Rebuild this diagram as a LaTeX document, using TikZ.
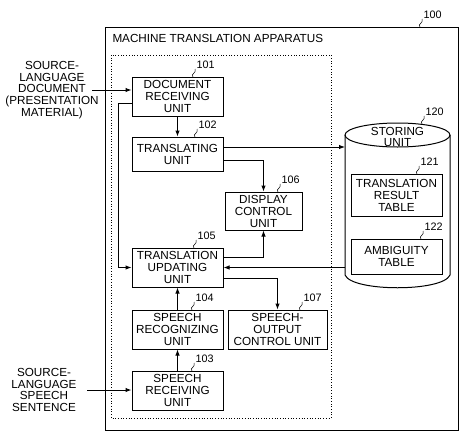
\documentclass[tikz,border=0pt]{standalone}
\usepackage{fontspec}
\setmainfont{Liberation Sans}
\usetikzlibrary{arrows.meta,calc}
\begin{document}
\begin{tikzpicture}[x=1pt,y=-1pt,
  line width=1pt,
  box/.style={draw,align=center,inner sep=0pt,font=\fontsize{11.7}{12}\selectfont},
  lbl/.style={align=center,inner sep=0pt,font=\fontsize{11.7}{11.6}\selectfont},
  num/.style={anchor=base west,inner sep=0pt,font=\fontsize{10.8}{11}\selectfont},
  arr/.style={-{Latex[length=6pt,width=4.5pt]}},
  sq/.style={line width=0.5pt}]
\useasboundingbox (0,0) rectangle (474,445);
\newcommand\refnum[3]{%
  \draw[sq] (#1,#2) .. controls (#1-3,#2-3) and (#1+4,#2-4) .. (#1+2,#2-8);
  \node[num] at (#1+3,#2-9) {#3};}
% outer and dotted boxes
\draw (105,27) rectangle (458,430);
\node[anchor=base west,inner sep=0pt,font=\fontsize{11.7}{12}\selectfont] (title) at (112,42) {MACHINE TRANSLATION APPARATUS};
\draw[dotted,line width=0.7pt] (111,55) rectangle (331,418);
\refnum{420}{27}{100}
% units
\node[box,minimum width=91pt,minimum height=39pt] (dr) at (177.5,96.5) {DOCUMENT\\RECEIVING\\UNIT};
\node[box,minimum width=91pt,minimum height=34pt] (tr) at (177.5,154) {TRANSLATING\\UNIT};
\node[box,minimum width=77pt,minimum height=38pt] (dc) at (263.5,211) {DISPLAY\\CONTROL\\UNIT};
\node[box,minimum width=91pt,minimum height=39pt] (tu) at (177.5,267.5) {TRANSLATION\\UPDATING\\UNIT};
\node[box,minimum width=91pt,minimum height=39pt] (sr) at (177.5,329.5) {SPEECH\\RECOGNIZING\\UNIT};
\node[box,minimum width=91pt,minimum height=39pt] (sv) at (177.5,390.5) {SPEECH\\RECEIVING\\UNIT};
\node[box,minimum width=99pt,minimum height=39pt] (so) at (277.5,329.5) {SPEECH-\\OUTPUT\\CONTROL UNIT};
\refnum{193}{77}{101}
\refnum{195}{137}{102}
\refnum{278}{192}{106}
\refnum{194}{248}{105}
\refnum{192}{310}{104}
\refnum{192}{371}{103}
\refnum{300}{310}{107}
% storing unit cylinder
\draw[fill=white] (345,135) -- (345,275) .. controls (352,292) and (443,292) .. (450,275) -- (450,135);
\draw (397.5,135) ellipse [x radius=52.5pt, y radius=12pt];
\node[lbl] (st) at (397.5,137) {STORING\\UNIT};
\coordinate (cylA) at (345,147);
\coordinate (cylB) at (345,267.5);
\refnum{422}{124}{120}
\node[box,minimum width=91pt,minimum height=42pt] (rt) at (396.5,195) {TRANSLATION\\RESULT\\TABLE};
\node[box,minimum width=91pt,minimum height=35pt] (at) at (396.5,256.5) {AMBIGUITY\\TABLE};
\refnum{417}{174}{121}
\refnum{421}{239}{122}
% inputs
\node[lbl] (srcdoc) at (52,90) {SOURCE-\\LANGUAGE\\DOCUMENT\\(PRESENTATION\\MATERIAL)};
\node[lbl] (srcsp) at (44,390) {SOURCE-\\LANGUAGE\\SPEECH\\SENTENCE};
\coordinate (ind) at (92,90);
\coordinate (ins) at (87,390);
% connectors
\draw[arr] (ind) -- (ind -| dr.west);
\draw[arr] (ins) -- (ins -| sv.west);
\draw[arr] (dr.south) -- (tr.north);
\draw[arr] ([yshift=-6.5pt]dr.west) -- ++(-13,0) |- (tu.west);
\draw[arr] (cylA -| tr.east) -- (cylA);
\draw[arr] ([yshift=-6pt]tr.east) -| (dc.north);
\draw[arr] ([yshift=10.5pt]tu.east) -| (dc.south);
\draw[arr] (cylB) -- (tu.east);
\draw[arr] ([yshift=-10.5pt]tu.east) -| (so.north);
\draw[arr] (sr.north) -- (tu.south);
\draw[arr] (sv.north) -- (sr.south);
\end{tikzpicture}
\end{document}
